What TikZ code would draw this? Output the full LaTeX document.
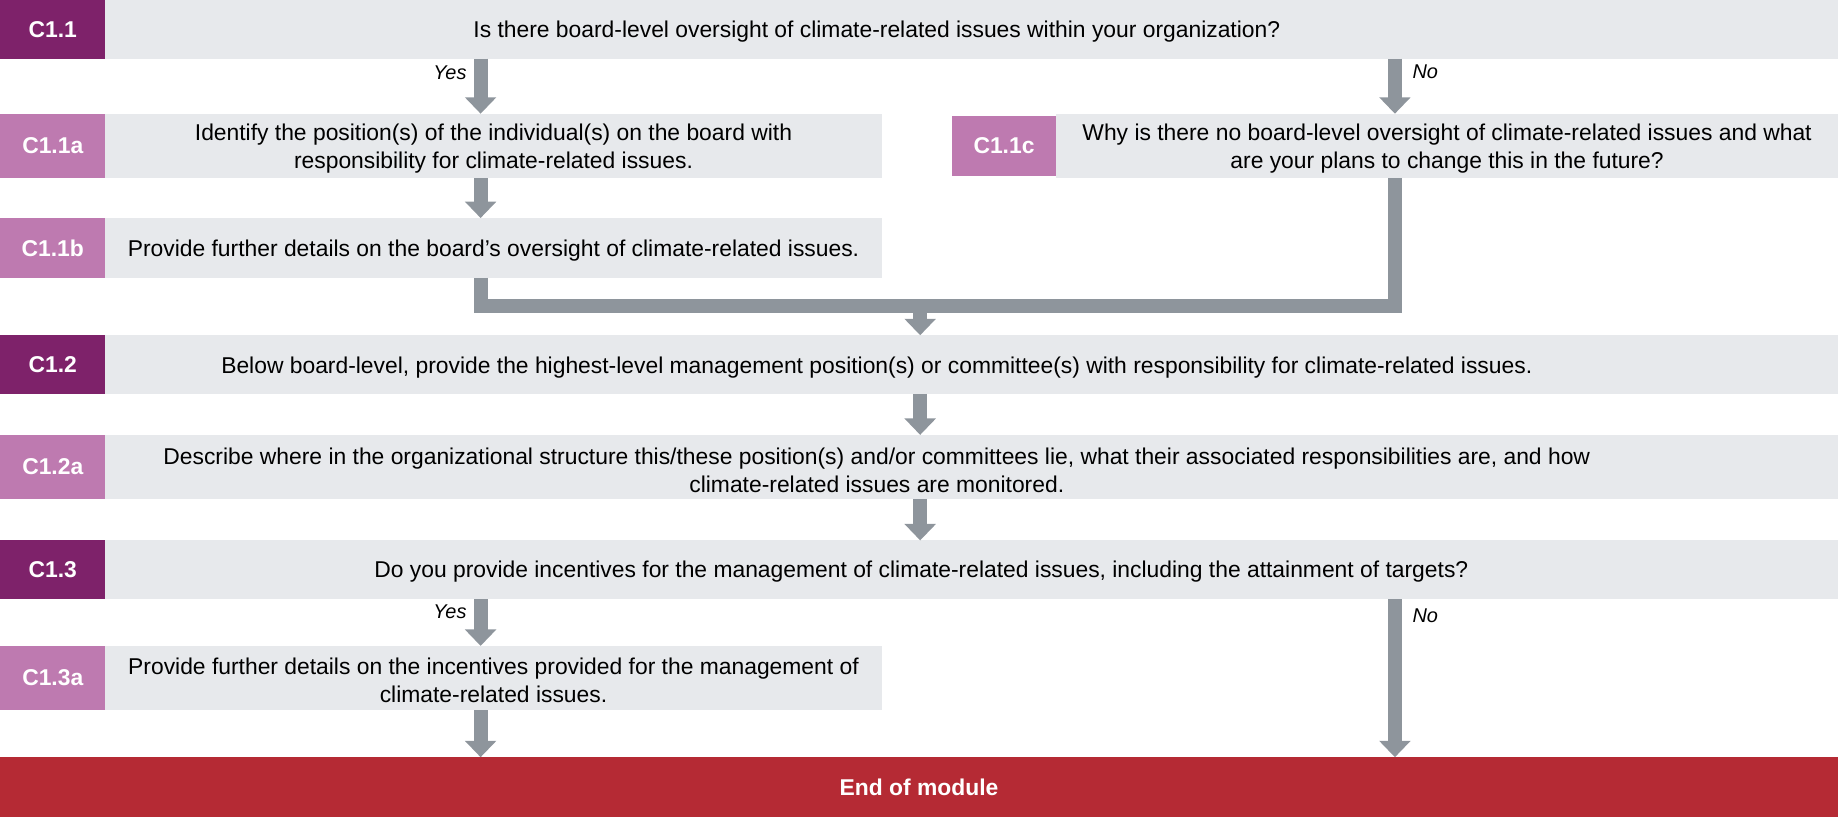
\documentclass[tikz,border=0pt]{standalone}
\usepackage{fontspec}
\setmainfont{Liberation Sans}
\usetikzlibrary{arrows.meta}
\definecolor{qpurple}{RGB}{126,34,106}
\definecolor{spurple}{RGB}{190,122,176}
\definecolor{barfill}{RGB}{231,233,236}
\definecolor{flowgrey}{RGB}{142,149,156}
\definecolor{endred}{RGB}{181,42,52}

\begin{document}
\begin{tikzpicture}[x=1pt, y=-1pt,
  every node/.style={font=\fontsize{19.5}{24}\selectfont, inner sep=0pt, outer sep=0pt},
  qlab/.style={fill=qpurple, text=white, font=\fontsize{19.5}{24}\selectfont\bfseries, minimum width=90pt, anchor=north west},
  slab/.style={qlab, fill=spurple},
  bar/.style={fill=barfill, anchor=north west},
  txt/.style={align=center, yshift=-2pt},
  flow/.style={draw=flowgrey, line width=12pt, -{Triangle[width=26pt,length=14pt]}},
  pipe/.style={draw=flowgrey, line width=12pt},
  ans/.style={font=\fontsize{17}{20}\selectfont\itshape}]
  \useasboundingbox (0,0) rectangle (1568,697);
  \coordinate (colA) at (410,0);
  \coordinate (colB) at (1190,0);
  \coordinate (colM) at (785,0);
  \coordinate (join) at (785,261);

  % C1.1
  \node[bar, minimum width=1478pt, minimum height=50pt] (q11) at (90,0) {};
  \node[qlab, minimum height=50pt] (l11) at (0,0) {C1.1};
  \node[txt] (t11) at (748,25) {Is there board-level oversight of climate-related issues within your organization?};

  % C1.1a / C1.1c
  \node[bar, minimum width=662pt, minimum height=55pt] (q11a) at (90,97) {};
  \node[slab, minimum height=55pt] (l11a) at (0,97) {C1.1a};
  \node[txt] (t11a) at (q11a) {Identify the position(s) of the individual(s) on the board with\\responsibility for climate-related issues.};

  \node[bar, minimum width=667pt, minimum height=55pt] (q11c) at (901,97) {};
  \node[slab, minimum width=89pt, minimum height=51pt] (l11c) at (812,99) {C1.1c};
  \node[txt] (t11c) at (q11c) {Why is there no board-level oversight of climate-related issues and what\\are your plans to change this in the future?};

  % C1.1b
  \node[bar, minimum width=662pt, minimum height=51pt] (q11b) at (90,186) {};
  \node[slab, minimum height=51pt] (l11b) at (0,186) {C1.1b};
  \node[txt] (t11b) at (q11b) {Provide further details on the board’s oversight of climate-related issues.};

  % C1.2
  \node[bar, minimum width=1478pt, minimum height=50pt] (q12) at (90,286) {};
  \node[qlab, minimum height=50pt] (l12) at (0,286) {C1.2};
  \node[txt] (t12) at (748,312) {Below board-level, provide the highest-level management position(s) or committee(s) with responsibility for climate-related issues.};

  % C1.2a
  \node[bar, minimum width=1478pt, minimum height=55pt] (q12a) at (90,371) {};
  \node[slab, minimum height=55pt] (l12a) at (0,371) {C1.2a};
  \node[txt] (t12a) at (748,399) {Describe where in the organizational structure this/these position(s) and/or committees lie, what their associated responsibilities are, and how\\climate-related issues are monitored.};

  % C1.3
  \node[bar, minimum width=1478pt, minimum height=50pt] (q13) at (90,461) {};
  \node[qlab, minimum height=50pt] (l13) at (0,461) {C1.3};
  \node[txt] (t13) at (786,486) {Do you provide incentives for the management of climate-related issues, including the attainment of targets?};

  % C1.3a
  \node[bar, minimum width=662pt, minimum height=55pt] (q13a) at (90,551) {};
  \node[slab, minimum height=55pt] (l13a) at (0,551) {C1.3a};
  \node[txt] (t13a) at (q13a) {Provide further details on the incentives provided for the management of\\climate-related issues.};

  \node[fill=endred, text=white, font=\fontsize{19.5}{24}\selectfont\bfseries, minimum width=1568pt, minimum height=51pt, anchor=north west] (qend) at (0,646) {End of module};

  % connectors
  \draw[flow] (colA |- q11.south) -- (colA |- q11a.north);
  \draw[flow] (colB |- q11.south) -- (colB |- q11c.north);
  \node[ans, anchor=east] (yes1) at (398,62) {Yes};
  \node[ans, anchor=west] (no1) at (1205,61) {No};
  \draw[flow] (colA |- q11a.south) -- (colA |- q11b.north);
  \draw[pipe] (colA |- q11b.south) |- (join) -| (colB |- q11c.south);
  \draw[flow] (join) -- (colM |- q12.north);
  \draw[flow] (colM |- q12.south) -- (colM |- q12a.north);
  \draw[flow] (colM |- q12a.south) -- (colM |- q13.north);
  \draw[flow] (colA |- q13.south) -- (colA |- q13a.north);
  \draw[flow] (colB |- q13.south) -- (colB |- qend.north);
  \node[ans, anchor=east] (yes2) at (398,522) {Yes};
  \node[ans, anchor=west] (no2) at (1205,525) {No};
  \draw[flow] (colA |- q13a.south) -- (colA |- qend.north);
\end{tikzpicture}
\end{document}
